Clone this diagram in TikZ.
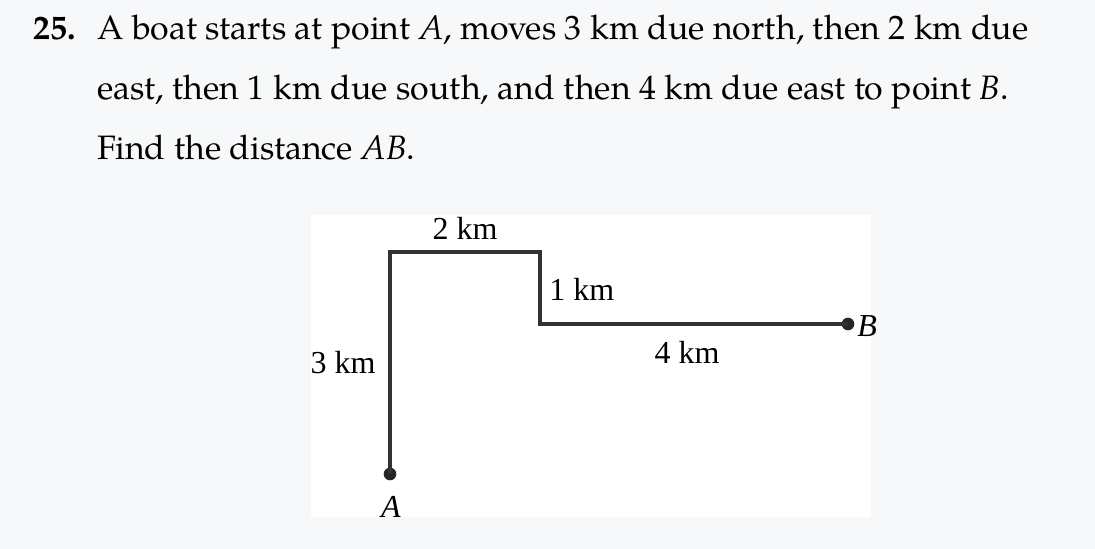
\documentclass[tikz,border=0pt]{standalone}
\usepackage{fontspec}
\setmainfont{TeX Gyre Pagella}
\newfontfamily\labelfont{Liberation Serif}
\usepackage{tikz}

\definecolor{pagebg}{RGB}{247,248,250}
\definecolor{pathgray}{RGB}{50,50,50}

\tikzset{
  txt/.style={anchor=base west, inner sep=0pt, font=\fontsize{25.4}{30}\selectfont},
  lbl/.style={inner sep=0pt, font=\labelfont\fontsize{24}{28}\selectfont},
  route/.style={draw=pathgray, line width=2.3pt},
  dot/.style={circle, fill=black!85, inner sep=0pt, minimum size=9.5pt}
}

\begin{document}
\begin{tikzpicture}[x=0.75pt,y=-0.75pt]
\begin{scope}

\fill[pagebg] (0,0) rectangle (1095,549);
\useasboundingbox (0,0) rectangle (1095,549);

% question text
\node[txt] (num) at (33,40) {\textbf{25.}};
\node[txt] (l1) at (97,40) {A boat starts at point \textit{A}, moves 3 km due north, then 2 km due};
\node[txt] (l2) at (97,100) {east, then 1 km due south, and then 4 km due east to point \textit{B}.};
\node[txt] (l3) at (97,160) {Find the distance \textit{AB}.};

% figure
\fill[white] (311,215) rectangle (871,517);

\node[dot] (A) at (390,474) {};
\node[dot] (B) at (848,324) {};
\coordinate (p1) at (390,252);
\coordinate (p2) at (540,252);
\coordinate (p3) at (540,324);

\draw[route] (A.center) -- (p1) -- (p2) -- (p3) -- (B.center);

\node[lbl] (kmA) at (465,228) {2 km};
\node[lbl, anchor=west] (kmB) at (549,289) {1 km};
\node[lbl] (kmC) at (343,363) {3 km};
\node[lbl] (kmD) at (687,352) {4 km};
\node[lbl, anchor=west] (labB) at (857,326) {\textit{B}};
\node[lbl] (labA) at (391,507) {\textit{A}};

\end{scope}
\end{tikzpicture}
\end{document}
